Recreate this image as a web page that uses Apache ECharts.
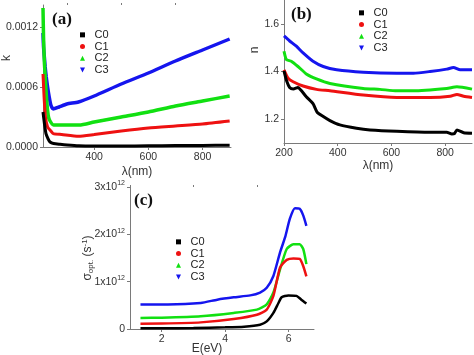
<!DOCTYPE html>
<html><head><meta charset="utf-8">
<script src="https://cdn.jsdelivr.net/npm/echarts@6/dist/echarts.min.js"></script>
<style>html,body{margin:0;padding:0;background:#fff}#c{width:474px;height:355px}</style>
</head><body><div id="c"></div>
<script>
// ---- panel (a): k vs wavelength (nm) ----
const kC0 = [[211,0.00035],[216,0.00024],[222,0.000134],[230,0.00008],[237,0.00005],[250,0.000035],[274,0.000027],[300,0.00002],[343,0.000012],[400,0.00001],[500,0.00001],[600,0.000012],[700,0.000014],[800,0.000016],[900,0.000018]];
const kC1 = [[211,0.00073],[215,0.0005],[220,0.0003],[228,0.0002],[240,0.00016],[249,0.000134],[280,0.000125],[342,0.000107],[400,0.000125],[500,0.00016],[600,0.00019],[700,0.00021],[800,0.00023],[900,0.00026]];
const kC2 = [[211,0.00139],[213,0.0011],[216,0.00085],[220,0.00067],[225,0.00045],[230,0.00032],[235,0.00027],[250,0.00022],[300,0.00022],[345,0.00022],[400,0.00025],[500,0.0003],[600,0.00035],[700,0.00041],[800,0.00046],[900,0.00051]];
const kC3 = [[211,0.00114],[213,0.001],[216,0.0009],[219,0.0008],[223,0.0007],[228,0.0006],[234,0.0005],[240,0.00042],[249,0.00038],[270,0.0004],[299,0.00043],[342,0.00045],[400,0.00051],[500,0.00063],[600,0.00074],[700,0.00086],[800,0.00097],[900,0.00108]];
const aXTicks = [400,600,800];
const aXMinor = [300,500,700];
const aYTicks = [0,0.0006,0.0012];

// ---- panel (b): n vs wavelength (nm) ----
const nC0 = [[200,1.403],[210,1.36],[221,1.333],[235,1.327],[252,1.333],[265,1.319],[283,1.294],[308,1.265],[323,1.23],[339,1.216],[371,1.194],[408,1.176],[470,1.162],[520,1.155],[620,1.149],[744,1.145],[806,1.145],[825,1.138],[835,1.14],[844,1.155],[869,1.143],[900,1.141]];
const nC1 = [[200,1.407],[215,1.372],[234,1.357],[271,1.339],[321,1.325],[371,1.319],[495,1.301],[620,1.291],[744,1.291],[819,1.296],[844,1.304],[869,1.296],[900,1.291]];
const nC2 = [[200,1.485],[209,1.45],[227,1.443],[252,1.421],[283,1.39],[321,1.369],[371,1.35],[495,1.329],[557,1.325],[620,1.319],[682,1.319],[806,1.329],[844,1.336],[900,1.326]];
const nC3 = [[200,1.549],[221,1.528],[246,1.506],[271,1.478],[308,1.443],[346,1.421],[396,1.407],[495,1.397],[620,1.393],[682,1.393],[744,1.4],[806,1.41],[831,1.417],[856,1.407],[900,1.407]];
const bXTicks = [200,400,600,800];
const bXMinor = [300,500,700,900];
const bYTicks = [1.2,1.4,1.6];

// ---- panel (c): sigma_opt (units of 1e12 s^-1) vs E (eV) ----
const sC0 = [[1.33,0.014],[2,0.015],[3,0.02],[4,0.035],[4.6,0.05],[5.1,0.09],[5.31,0.16],[5.52,0.34],[5.68,0.55],[5.78,0.67],[5.99,0.71],[6.25,0.70],[6.4,0.62],[6.56,0.54]];
const sC1 = [[1.33,0.113],[2,0.115],[3.23,0.14],[4.27,0.21],[5.0,0.3],[5.31,0.41],[5.52,0.7],[5.73,1.3],[5.94,1.46],[6.15,1.49],[6.35,1.48],[6.46,1.33],[6.56,1.11]];
const sC2 = [[1.33,0.234],[2,0.24],[3.23,0.27],[4.27,0.34],[5,0.41],[5.31,0.52],[5.52,0.77],[5.73,1.26],[5.94,1.69],[6.15,1.79],[6.35,1.79],[6.46,1.69],[6.56,1.37]];
const sC3 = [[1.33,0.52],[2.19,0.52],[3.23,0.55],[3.75,0.62],[4.27,0.67],[4.79,0.71],[5.1,0.77],[5.31,0.87],[5.52,1.12],[5.73,1.62],[5.89,1.94],[6.04,2.33],[6.2,2.55],[6.35,2.54],[6.46,2.4],[6.56,2.18]];
const cXTicks = [2,4,6];
const cXMinor = [1,3,5];
const cYTicks = [0,1,2,3];

const names = ['C0','C1','C2','C3'];
const colors = ['#000000','#ee1111','#11e011','#1515ee'];
const icons = ['path://M0,0h10v10h-10z','circle','path://M5,0L10,10L0,10Z','path://M0,0L10,0L5,10Z'];

const FONT = 'Liberation Sans';
const axisCol = '#7a7a7a';
const labCol = '#333';

function xAxisDef(grid, min, max, ticks, fmt){
  return {type:'value', gridIndex:grid, min:min, max:max,
    axisLine:{show:true, lineStyle:{color:axisCol, width:1}},
    axisTick:{show:true, customValues:ticks, length:3, lineStyle:{color:axisCol}},
    axisLabel:{show:true, customValues:ticks, fontFamily:FONT, fontSize:10.5, color:labCol, margin:5, formatter:fmt},
    splitLine:{show:false}};
}
function minorAxisDef(grid, min, max, ticks){
  return {type:'value', gridIndex:grid, min:min, max:max,
    axisLine:{show:false}, axisLabel:{show:false}, splitLine:{show:false},
    axisTick:{show:true, customValues:ticks, length:2, lineStyle:{color:axisCol}}};
}
function yAxisDef(grid, min, max, ticks, fmt, rich){
  const lab = {show:true, customValues:ticks, fontFamily:FONT, fontSize:10.5, color:labCol, margin:5, formatter:fmt};
  if (rich) lab.rich = rich;
  return {type:'value', gridIndex:grid, min:min, max:max,
    axisLine:{show:true, lineStyle:{color:axisCol, width:1}},
    axisTick:{show:true, customValues:ticks, length:3, lineStyle:{color:axisCol}},
    axisLabel:lab, splitLine:{show:false}};
}

const seriesData = [[kC0,kC1,kC2,kC3],[nC0,nC1,nC2,nC3],[sC0,sC1,sC2,sC3]];
const widths = [[3,3,3.5,3.5],[3,3,3,3],[2.5,2.5,2.5,2.5]];
const series = [];
for (let g=0; g<3; g++){
  for (let i=0;i<4;i++){
    series.push({type:'line', name:names[i], xAxisIndex:g*2, yAxisIndex:g, data:seriesData[g][i],
      symbol:'none', smooth:0.2, lineStyle:{color:colors[i], width:widths[g][i]}, itemStyle:{color:colors[i]},
      silent:true, animation:false, z:10-i});
  }
}

function legendDef(left, top){
  return {orient:'vertical', left:left, top:top, itemWidth:16, itemHeight:5, itemGap:0, padding:0,
    textStyle:{fontFamily:FONT, fontSize:11, color:'#222', lineHeight:11.7, padding:[0,0,0,-1]},
    selectedMode:false,
    data:names.map((n,i)=>({name:n, icon:icons[i], itemStyle:{color:colors[i]}}))};
}

const chart = echarts.init(document.getElementById('c'), null, {renderer:'canvas'});
chart.setOption({
  animation:false,
  backgroundColor:'#fff',
  grid:[
    {left:43, top:5, width:188, height:142},
    {left:284, top:0, width:188, height:143},
    {left:130, top:187, width:184, height:142}
  ],
  xAxis:[
    xAxisDef(0, 211, 905, aXTicks), minorAxisDef(0, 211, 905, aXMinor),
    xAxisDef(1, 200, 900, bXTicks), minorAxisDef(1, 200, 900, bXMinor),
    xAxisDef(2, 1, 6.8, cXTicks), minorAxisDef(2, 1, 6.8, cXMinor)
  ],
  yAxis:[
    yAxisDef(0, 0, 0.00142, aYTicks, v=>v.toFixed(4)),
    yAxisDef(1, 1.1, 1.7, bYTicks, v=>v.toFixed(1)),
    yAxisDef(2, 0, 3, cYTicks, v=> v===0 ? '0' : '{b|'+v+'x10}{s|12}',
      {b:{fontFamily:FONT, fontSize:10.5, color:labCol}, s:{fontFamily:FONT, fontSize:7, color:labCol, padding:[0,0,7,0]}})
  ],
  legend:[legendDef(80,29), legendDef(359,7), legendDef(176,236)],
  series:series,
  graphic:[
    {type:'text', left:52, top:11, style:{text:'(a)', font:'bold 17px "Liberation Serif"', fill:'#111'}},
    {type:'text', left:291, top:6, style:{text:'(b)', font:'bold 17px "Liberation Serif"', fill:'#111'}},
    {type:'text', left:134, top:192, style:{text:'(c)', font:'bold 17px "Liberation Serif"', fill:'#111'}},
    {type:'text', x:137, y:172, style:{text:'λ(nm)', font:'12px "Liberation Sans"', fill:'#333', align:'center', verticalAlign:'middle'}},
    {type:'text', x:378, y:166, style:{text:'λ(nm)', font:'12px "Liberation Sans"', fill:'#333', align:'center', verticalAlign:'middle'}},
    {type:'text', x:207, y:349, style:{text:'E(eV)', font:'12px "Liberation Sans"', fill:'#333', align:'center', verticalAlign:'middle'}},
    {type:'text', x:7, y:58, rotation:Math.PI/2, style:{text:'k', font:'12px "Liberation Sans"', fill:'#333', align:'center', verticalAlign:'middle'}},
    {type:'text', x:255, y:50, rotation:Math.PI/2, style:{text:'n', font:'12px "Liberation Sans"', fill:'#333', align:'center', verticalAlign:'middle'}},
    {type:'text', x:88, y:258, rotation:Math.PI/2, style:{text:'σ{sub|opt.} (s{sup|-1})', font:'12px "Liberation Sans"', fill:'#333', align:'center', verticalAlign:'middle',
      rich:{sub:{fontSize:8, fontFamily:FONT, fill:'#333', padding:[5,0,0,0]}, sup:{fontSize:8, fontFamily:FONT, fill:'#333', padding:[0,0,6,0]}}}}
  ]
});
</script></body></html>
